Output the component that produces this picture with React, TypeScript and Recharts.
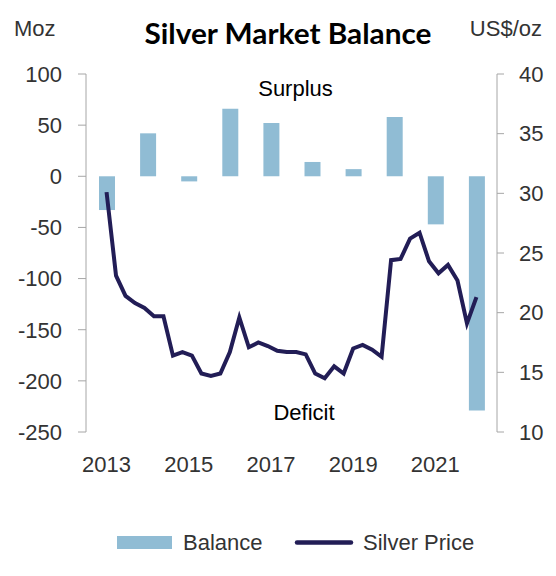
import { Bar, ComposedChart, Legend, Line, XAxis, YAxis } from "recharts"

// yearly market balance, Moz
const years = ["2013", "2014", "2015", "2016", "2017", "2018", "2019", "2020", "2021", "2022"]
const balance = [-33, 42, -5, 66, 52, 14, 7, 58, -47, -229]

// quarterly silver price, US$/oz (2013 Q1 .. 2022 Q4)
const quarterLabels = ["Q1", "Q2", "Q3", "Q4"]
const silverPrice = [
  30.1, 23.1, 21.4, 20.8,
  20.4, 19.7, 19.7, 16.4,
  16.7, 16.4, 14.9, 14.7,
  14.9, 16.7, 19.6, 17.1,
  17.5, 17.2, 16.8, 16.7,
  16.7, 16.5, 14.9, 14.5,
  15.5, 14.9, 17.0, 17.3,
  16.9, 16.3, 24.4, 24.5,
  26.2, 26.7, 24.3, 23.3,
  24.0, 22.7, 19.1, 21.3,
]

const leftTicks = [-250, -200, -150, -100, -50, 0, 50, 100]
const rightTicks = [10, 15, 20, 25, 30, 35, 40]

const BAR_COLOR = "#90bcd4"
const LINE_COLOR = "#221d56"
const AXIS_COLOR = "#a6a6a6"
const TEXT_COLOR = "#333333"
const FONT = "'Liberation Sans', Arial, sans-serif"

const barData = years.map((year, i) => ({ year, balance: balance[i] }))

// place each quarter between the first and last bar centres
const priceData = silverPrice.map((price, i) => ({
  quarter: `${years[Math.floor(i / 4)]} ${quarterLabels[i % 4]}`,
  t: (i * (years.length - 1)) / (silverPrice.length - 1),
  price,
}))

const tickStyle = { fontFamily: FONT, fontSize: 22, fill: TEXT_COLOR }

function renderLegend() {
  return (
    <svg width={556} height={40} style={{ display: "block" }}>
      <rect x={117} y={16} width={55} height={13} fill={BAR_COLOR} />
      <text x={183} y={29.5} fontFamily={FONT} fontSize={22} fill={TEXT_COLOR}>
        Balance
      </text>
      <line x1={297} y1={22.5} x2={351} y2={22.5} stroke={LINE_COLOR} strokeWidth={4.5} strokeLinecap="round" />
      <text x={363} y={29.5} fontFamily={FONT} fontSize={22} fill={TEXT_COLOR}>
        Silver Price
      </text>
    </svg>
  )
}

export default function App() {
  return (
    <div style={{ position: "absolute", left: 0, top: 0, width: 556, height: 576, background: "#fff" }}>
      <ComposedChart
        width={556}
        height={576}
        data={barData}
        margin={{ top: 74, right: 0, bottom: 104, left: 0 }}
      >
        <XAxis
          xAxisId="year"
          dataKey="year"
          interval={1}
          tickLine={false}
          axisLine={false}
          tickSize={0}
          tickMargin={-6}
          height={40}
          tick={tickStyle}
        />
        <XAxis xAxisId="q" type="number" dataKey="t" domain={[-0.5, years.length - 0.5]} hide />
        <YAxis
          yAxisId="left"
          domain={[-250, 100]}
          ticks={leftTicks}
          width={86}
          tickSize={8}
          tickMargin={16}
          stroke={AXIS_COLOR}
          tick={tickStyle}
        />
        <YAxis
          yAxisId="right"
          orientation="right"
          domain={[10, 40]}
          ticks={rightTicks}
          width={59}
          tickSize={7}
          tickMargin={15}
          stroke={AXIS_COLOR}
          tick={tickStyle}
        />
        <Bar
          xAxisId="year"
          yAxisId="left"
          dataKey="balance"
          name="Balance"
          fill={BAR_COLOR}
          barSize={16}
          isAnimationActive={false}
        />
        <Line
          xAxisId="q"
          yAxisId="right"
          data={priceData}
          dataKey="price"
          name="Silver Price"
          stroke={LINE_COLOR}
          strokeWidth={4}
          dot={false}
          activeDot={false}
          isAnimationActive={false}
        />
        <Legend
          layout="horizontal"
          verticalAlign="middle"
          align="center"
          content={renderLegend}
          wrapperStyle={{ top: 520, left: 0, width: 556 }}
        />
      </ComposedChart>
      <svg
        width={556}
        height={576}
        style={{ position: "absolute", left: 0, top: 0, pointerEvents: "none" }}
      >
        <text
          x={288}
          y={43.5}
          textAnchor="middle"
          fontFamily="Lato, 'Open Sans', sans-serif"
          fontWeight={700}
          fontSize={28}
          textLength={287}
          lengthAdjust="spacingAndGlyphs"
          fill="#000"
        >
          Silver Market Balance
        </text>
        <text x={14} y={36} fontFamily={FONT} fontSize={22} fill={TEXT_COLOR}>
          Moz
        </text>
        <text x={542} y={36} textAnchor="end" fontFamily={FONT} fontSize={22} fill={TEXT_COLOR}>
          US$/oz
        </text>
        <text x={295.5} y={96} textAnchor="middle" fontFamily={FONT} fontSize={22} fill="#000">
          Surplus
        </text>
        <text x={304} y={420} textAnchor="middle" fontFamily={FONT} fontSize={22} fill="#000">
          Deficit
        </text>
      </svg>
    </div>
  )
}
